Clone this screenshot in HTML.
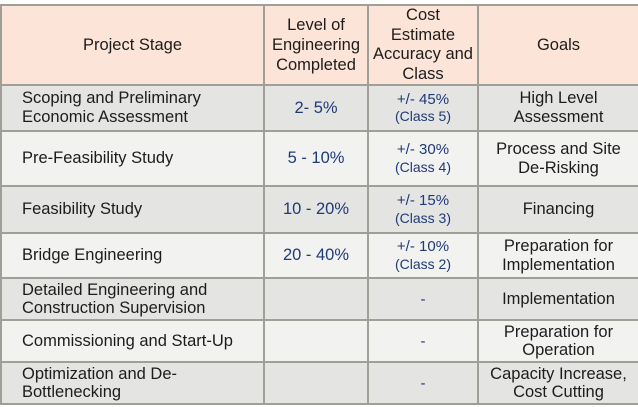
<!DOCTYPE html>
<html><head><meta charset="utf-8"><style>
html,body{margin:0;padding:0;background:#fff;}
#c{position:relative;width:638px;height:407px;overflow:hidden;background:#fff;font-family:"Liberation Sans",Arial,sans-serif;}
.bg{position:absolute;left:0;width:638px;}
.ln{position:absolute;background:#9f9f98;}
.cell{position:absolute;display:flex;align-items:center;justify-content:center;text-align:center;color:#1c1c1c;font-size:16.5px;line-height:19px;}
.l{justify-content:flex-start;text-align:left;padding-left:20px;box-sizing:border-box;}
.b{color:#1f3a78;}
.lv{font-size:16.5px;}
.cs{line-height:17.5px;}
.cs .a{font-size:15px;}
.cs .k{font-size:14px;}
</style></head><body>
<div id="c">
<!-- backgrounds -->
<div class="bg" style="top:6px;height:78px;background:#fde4d8"></div>
<div class="bg" style="top:86px;height:44px;background:#e4e4e2"></div>
<div class="bg" style="top:132px;height:53px;background:#f2f2f0"></div>
<div class="bg" style="top:187px;height:45px;background:#e4e4e2"></div>
<div class="bg" style="top:234px;height:43px;background:#f2f2f0"></div>
<div class="bg" style="top:279px;height:40px;background:#e4e4e2"></div>
<div class="bg" style="top:321px;height:40px;background:#f2f2f0"></div>
<div class="bg" style="top:363px;height:40px;background:#e4e4e2"></div>
<!-- horizontal lines -->
<div class="ln" style="left:0;top:4px;width:638px;height:2px"></div>
<div class="ln" style="left:0;top:84px;width:638px;height:2px"></div>
<div class="ln" style="left:0;top:130px;width:638px;height:2px"></div>
<div class="ln" style="left:0;top:185px;width:638px;height:2px"></div>
<div class="ln" style="left:0;top:232px;width:638px;height:2px"></div>
<div class="ln" style="left:0;top:277px;width:638px;height:2px"></div>
<div class="ln" style="left:0;top:319px;width:638px;height:2px"></div>
<div class="ln" style="left:0;top:361px;width:638px;height:2px"></div>
<div class="ln" style="left:0;top:403px;width:638px;height:2px"></div>
<!-- vertical lines -->
<div class="ln" style="left:0;top:4px;width:2px;height:401px"></div>
<div class="ln" style="left:263px;top:4px;width:2px;height:401px"></div>
<div class="ln" style="left:367px;top:4px;width:2px;height:401px"></div>
<div class="ln" style="left:477px;top:4px;width:2px;height:401px"></div>

<!-- header -->
<div class="cell" style="left:2px;top:6px;width:261px;height:78px">Project Stage</div>
<div class="cell" style="left:265px;top:6px;width:102px;height:78px;line-height:20px">Level of<br>Engineering<br>Completed</div>
<div class="cell" style="left:369px;top:6px;width:108px;height:78px;line-height:19.5px">Cost<br>Estimate<br>Accuracy and<br>Class</div>
<div class="cell" style="left:479px;top:6px;width:159px;height:78px">Goals</div>

<!-- row 1 -->
<div class="cell l" style="left:2px;top:86px;width:261px;height:44px">Scoping and Preliminary<br>Economic Assessment</div>
<div class="cell b lv" style="left:265px;top:86px;width:102px;height:44px">2- 5%</div>
<div class="cell b cs" style="left:369px;top:86px;width:108px;height:44px"><div><span class="a">+/- 45%</span><br><span class="k">(Class 5)</span></div></div>
<div class="cell" style="left:479px;top:86px;width:159px;height:44px">High Level<br>Assessment</div>

<!-- row 2 -->
<div class="cell l" style="left:2px;top:132px;width:261px;height:53px">Pre-Feasibility Study</div>
<div class="cell b lv" style="left:265px;top:132px;width:102px;height:53px">5 - 10%</div>
<div class="cell b cs" style="left:369px;top:132px;width:108px;height:53px"><div><span class="a">+/- 30%</span><br><span class="k">(Class 4)</span></div></div>
<div class="cell" style="left:479px;top:132px;width:159px;height:53px">Process and Site<br>De-Risking</div>

<!-- row 3 -->
<div class="cell l" style="left:2px;top:187px;width:261px;height:45px">Feasibility Study</div>
<div class="cell b lv" style="left:265px;top:187px;width:102px;height:45px">10 - 20%</div>
<div class="cell b cs" style="left:369px;top:187px;width:108px;height:45px"><div><span class="a">+/- 15%</span><br><span class="k">(Class 3)</span></div></div>
<div class="cell" style="left:479px;top:187px;width:159px;height:45px">Financing</div>

<!-- row 4 -->
<div class="cell l" style="left:2px;top:234px;width:261px;height:43px">Bridge Engineering</div>
<div class="cell b lv" style="left:265px;top:234px;width:102px;height:43px">20 - 40%</div>
<div class="cell b cs" style="left:369px;top:234px;width:108px;height:43px"><div><span class="a">+/- 10%</span><br><span class="k">(Class 2)</span></div></div>
<div class="cell" style="left:479px;top:234px;width:159px;height:43px;line-height:18.5px">Preparation for<br>Implementation</div>

<!-- row 5 -->
<div class="cell l" style="left:2px;top:279px;width:261px;height:40px;line-height:18.5px">Detailed Engineering and<br>Construction Supervision</div>
<div class="cell b" style="left:369px;top:279px;width:108px;height:40px;font-size:15px">-</div>
<div class="cell" style="left:479px;top:279px;width:159px;height:40px">Implementation</div>

<!-- row 6 -->
<div class="cell l" style="left:2px;top:321px;width:261px;height:40px">Commissioning and Start-Up</div>
<div class="cell b" style="left:369px;top:321px;width:108px;height:40px;font-size:15px">-</div>
<div class="cell" style="left:479px;top:321px;width:159px;height:40px;line-height:18.5px">Preparation for<br>Operation</div>

<!-- row 7 -->
<div class="cell l" style="left:2px;top:363px;width:261px;height:40px;line-height:18px">Optimization and De-<br>Bottlenecking</div>
<div class="cell b" style="left:369px;top:363px;width:108px;height:40px;font-size:15px">-</div>
<div class="cell" style="left:479px;top:363px;width:159px;height:40px;line-height:18.5px">Capacity Increase,<br>Cost Cutting</div>
</div>
</body></html>
